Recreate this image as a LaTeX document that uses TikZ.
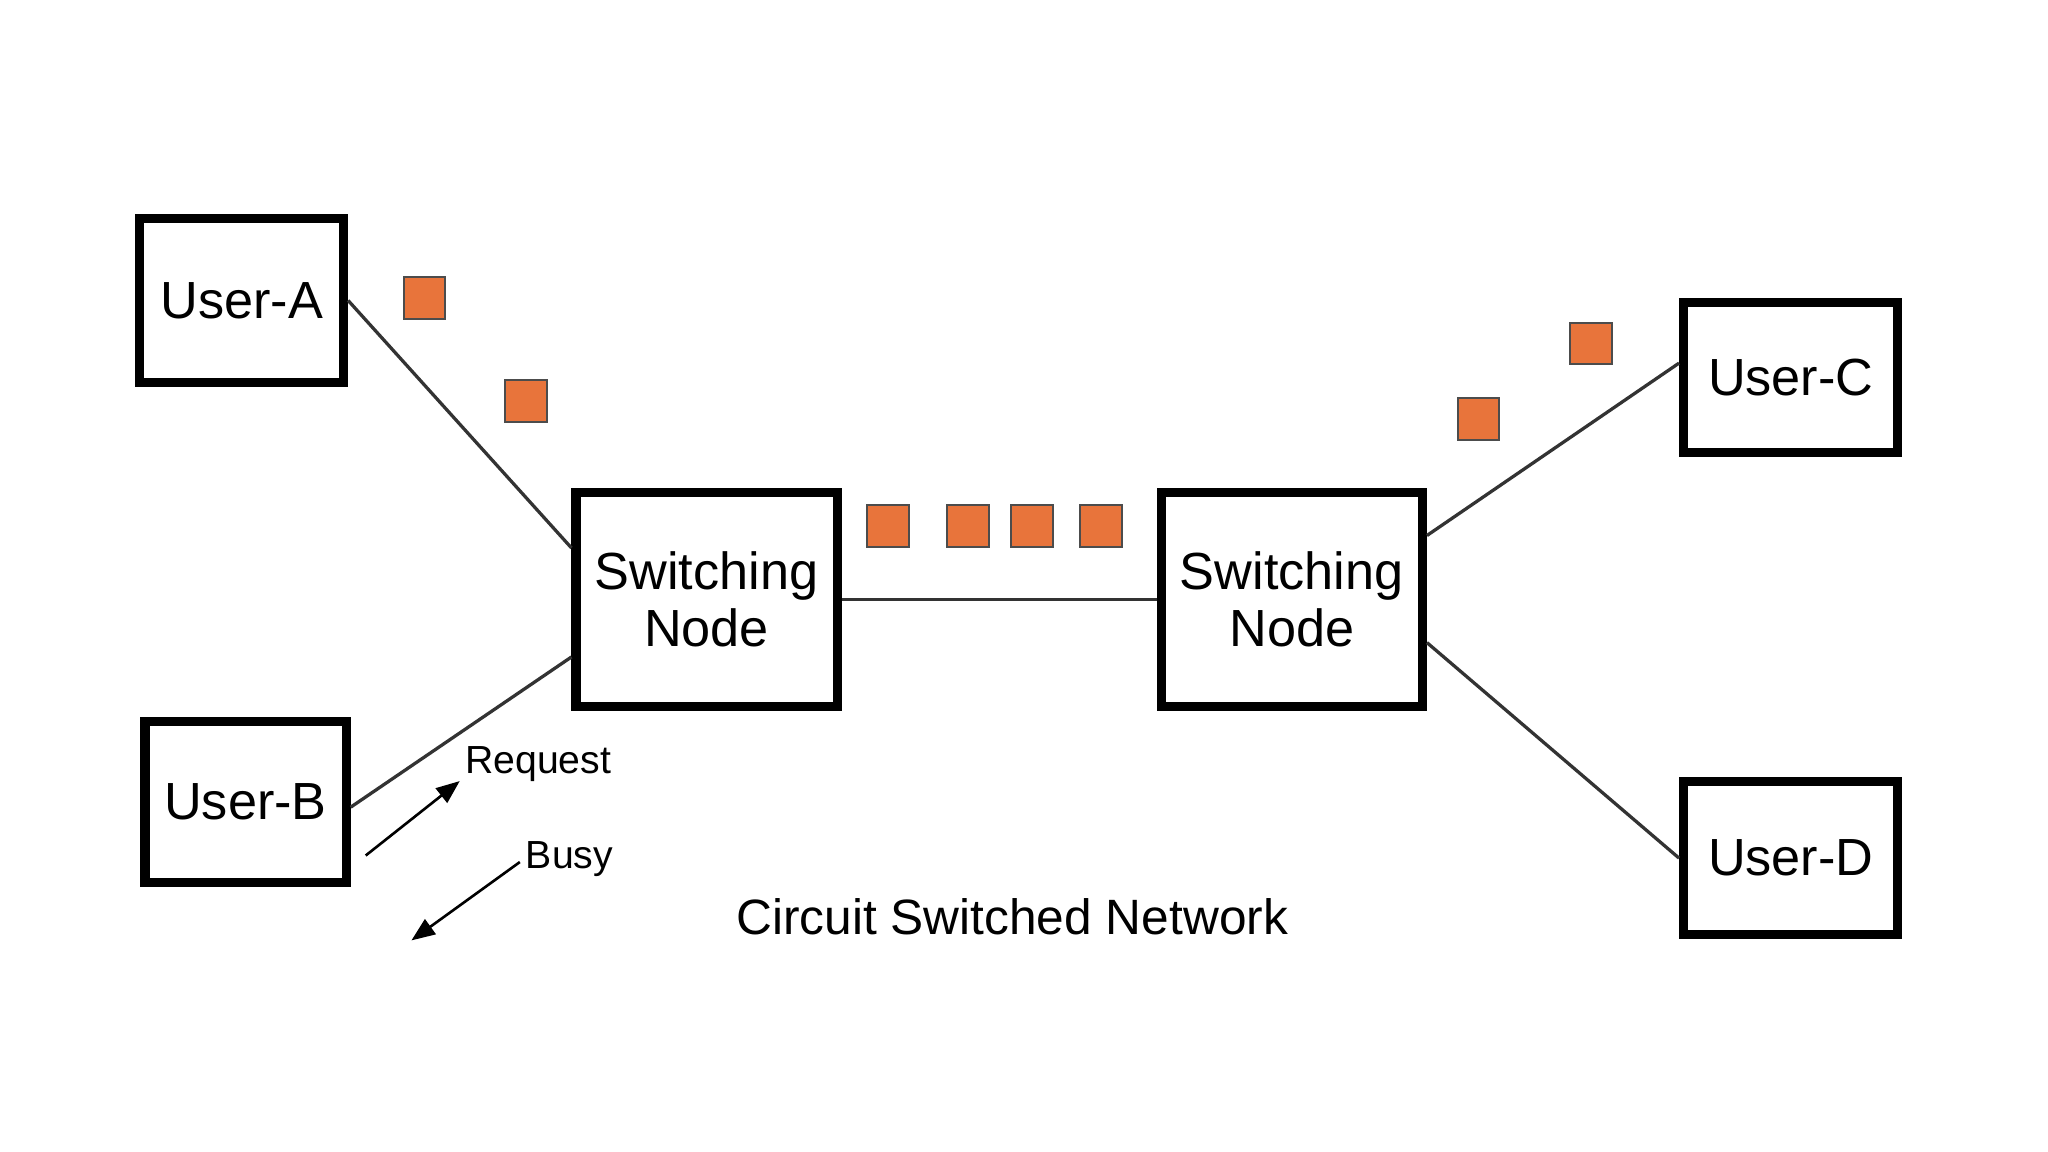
\documentclass[tikz,border=0pt]{standalone}
\usepackage{fontspec}
\setmainfont{Liberation Sans}
\usetikzlibrary{arrows.meta}
\definecolor{pkt}{HTML}{E8743B}
\begin{document}
\begin{tikzpicture}[x=1pt,y=-1pt,
  box/.style={draw=black,line width=7pt,fill=white,inner sep=0pt},
  lbl/.style={font=\fontsize{40}{46}\selectfont},
  pk/.style={draw=black!70,line width=1.5pt,fill=pkt,minimum size=32pt,inner sep=0pt},
  ln/.style={line width=2.5pt,black!80},
  ar/.style={line width=2pt,-{Triangle[length=18pt,width=14pt]}}]
\useasboundingbox[fill=white] (0,0) rectangle (1568,882);
\node[box,minimum width=156pt,minimum height=126pt,lbl] (A) at (185,230) {User-A};
\node[box,minimum width=154pt,minimum height=123pt,lbl] (B) at (188,614) {User-B};
\node[box,minimum width=200pt,minimum height=164pt,lbl,align=center] (SL) at (541,459) {Switching\\[-2pt]Node};
\node[box,minimum width=200pt,minimum height=164pt,lbl,align=center] (SR) at (989,459) {Switching\\[-2pt]Node};
\node[box,minimum width=164pt,minimum height=115pt,lbl] (C) at (1371,289) {User-C};
\node[box,minimum width=164pt,minimum height=117pt,lbl] (D) at (1371,657) {User-D};
\draw[ln] (A.east) -- ([yshift=-46pt]SL.north west);
\draw[ln] ([yshift=-4pt]B.east) -- ([yshift=-44pt]SL.west);
\draw[ln] (SL) -- (SR);
\draw[ln] ([yshift=49pt]SR.east) -- ([yshift=11pt]C.west);
\draw[ln] ([yshift=-33pt]SR.east) -- (D.west);
\foreach \n/\x/\y in {p1/325/228,p2/403/307,p3/680/403,p4/741/403,p5/790/403,p6/843/403,p7/1132/321,p8/1218/263}
  \node[pk] (\n) at (\x,\y) {};
\coordinate (r1) at (280,655); \coordinate (r2) at (352,598);
\coordinate (b1) at (398,660); \coordinate (b2) at (315,720);
\draw[ar] (r1) -- (r2);
\draw[ar] (b1) -- (b2);
\node[font=\fontsize{30}{34}\selectfont] (rq) at (412,585) {Request};
\node[font=\fontsize{30}{34}\selectfont] (bs) at (436,658) {Busy};
\node[font=\fontsize{38}{44}\selectfont] (t) at (775,702) {Circuit Switched Network};
\end{tikzpicture}
\end{document}
